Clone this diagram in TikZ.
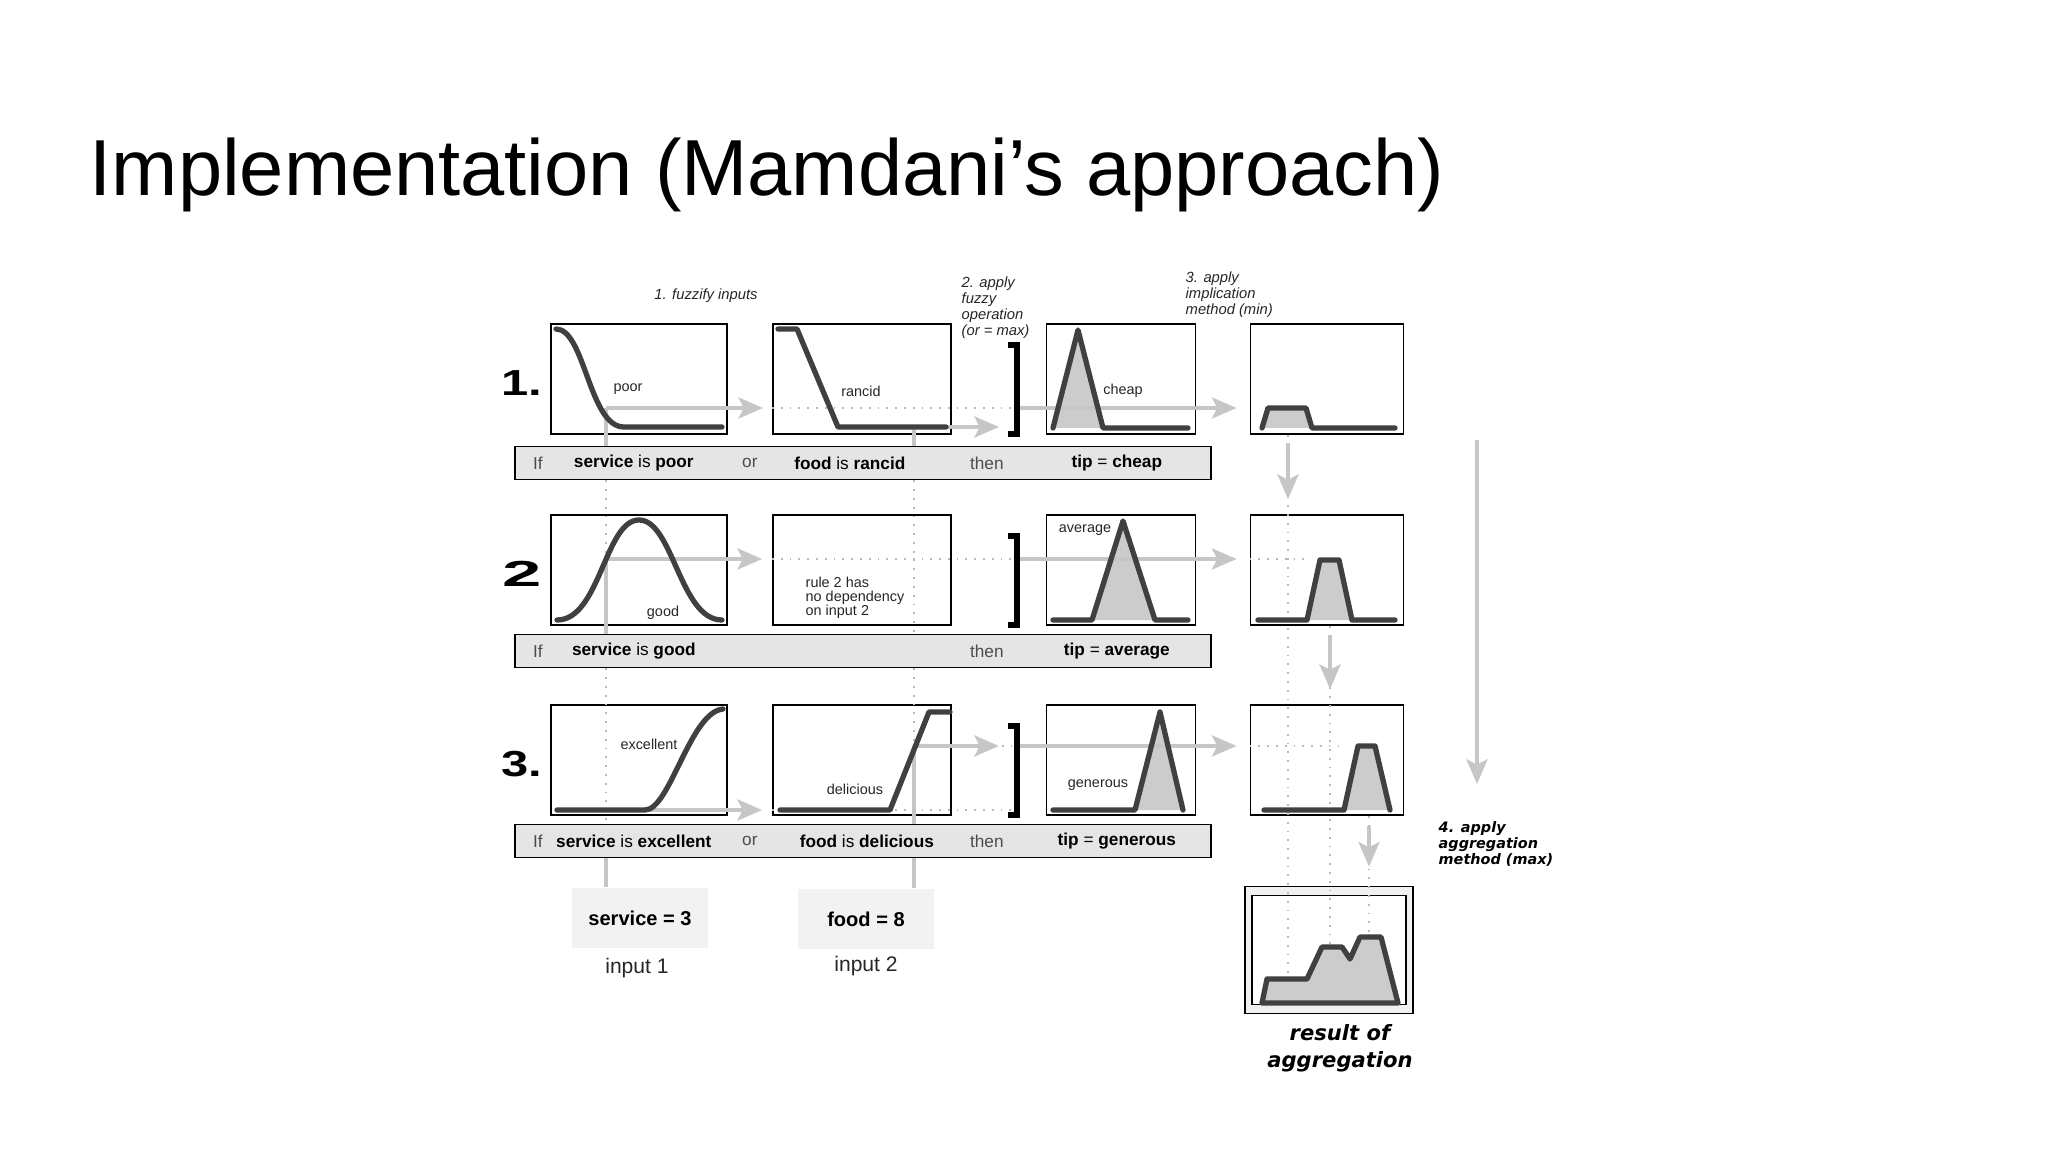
\documentclass[tikz,border=0pt]{standalone}
\usepackage{fontspec}
\setmainfont{Liberation Sans}
\newfontfamily\aggfont{DejaVu Sans}
\usetikzlibrary{arrows.meta,calc}

\begin{document}
\begin{tikzpicture}[x=0.01cm,y=-0.01cm,
  panel/.style={draw,line width=0.5pt,fill=white,inner sep=0pt,minimum height=1.1cm},
  rulebar/.style={draw,line width=0.55pt,fill=gray!20,inner sep=0pt,minimum width=6.96cm,minimum height=0.33cm},
  inbox/.style={fill=gray!10,inner sep=0pt,minimum width=1.35cm,minimum height=0.6cm,font=\fontsize{5.7pt}{6pt}\selectfont\bfseries},
  mf/.style={line width=1.5pt,draw=black!75,line cap=round,line join=round},
  flow/.style={line width=1pt,draw=gray!45,-{Stealth[length=7pt,width=6pt,inset=1.5pt]}},
  feed/.style={line width=1pt,draw=gray!45},
  guide/.style={line width=0.5pt,draw=gray!55,dotted},
  lbl/.style={font=\fontsize{4.1pt}{4.1pt}\selectfont,inner sep=0pt,text=black!85},
  note/.style={font=\fontsize{4.2pt}{4.6pt}\selectfont\itshape,inner sep=0pt,align=left,anchor=north west,text=black!85},
  rtxt/.style={font=\fontsize{4.9pt}{5.5pt}\selectfont,inner sep=0pt},
  rowno/.style={font=\fontsize{10.3pt}{11pt}\selectfont\bfseries,inner sep=0pt},
  bracket/.style={line width=1.6pt}]
\useasboundingbox (0,0) rectangle (2048,1152);

\node[anchor=base west,inner sep=0pt,font=\fontsize{22.6pt}{27pt}\selectfont] (title) at (89,196) {Implementation (Mamdani’s approach)};

\foreach \r/\y/\num/\sx in {1/379/1./1.35,2/570/2/1.95,3/760/3./1.35} {
\node[panel,minimum width=1.76cm] (a\r) at (639,\y) {};
\node[panel,minimum width=1.78cm] (b\r) at (862,\y) {};
\node[panel,minimum width=1.49cm] (c\r) at (1121,\y) {};
\node[panel,minimum width=1.53cm] (d\r) at (1327,\y) {};
\node[rowno] (n\r) at (522,\y+4) {\scalebox{\sx}[1]{\num}};
\coordinate (br\r) at (1017,\y+10);
}

\foreach \r/\y in {1/463,2/651,3/841} {
\node[rulebar] (bar\r) at (863,\y) {};
\node[rtxt,text=black!70] (if\r) at ($(bar\r.west)+(24,0)$) {If};
\node[rtxt,text=black!70] (then\r) at ($(bar\r.west)+(473,0)$) {then};
}
\node[rtxt] (r1s) at ($(bar1.west)+(120,0)$) {\textbf{service} is \textbf{poor}};
\node[rtxt,text=black!70] (r1o) at ($(bar1.west)+(236,0)$) {or};
\node[rtxt] (r1f) at ($(bar1.west)+(336,0)$) {\textbf{food} is \textbf{rancid}};
\node[rtxt] (r1t) at ($(bar1.west)+(603,0)$) {\textbf{tip} = \textbf{cheap}};
\node[rtxt] (r2s) at ($(bar2.west)+(120,0)$) {\textbf{service} is \textbf{good}};
\node[rtxt] (r2t) at ($(bar2.west)+(603,0)$) {\textbf{tip} = \textbf{average}};
\node[rtxt] (r3s) at ($(bar3.west)+(120,0)$) {\textbf{service} is \textbf{excellent}};
\node[rtxt,text=black!70] (r3o) at ($(bar3.west)+(236,0)$) {or};
\node[rtxt] (r3f) at ($(bar3.west)+(353,0)$) {\textbf{food} is \textbf{delicious}};
\node[rtxt] (r3t) at ($(bar3.west)+(603,0)$) {\textbf{tip} = \textbf{generous}};

\node[inbox] (in1) at (640,918) {service = 3};
\node[inbox] (in2) at (866,919) {food = 8};
\node[inner sep=0pt,font=\fontsize{6pt}{7pt}\selectfont,text=black!85] (lab1) at (637,968) {input 1};
\node[inner sep=0pt,font=\fontsize{6pt}{7pt}\selectfont,text=black!85] (lab2) at (866,966) {input 2};

\coordinate (s1) at (606,408);
\coordinate (s2) at (606,559);
\coordinate (s3) at (606,810);
\coordinate (f1) at (914,427);
\coordinate (f3) at (914,746);

\draw[feed] (s1) -- (s1 |- bar1.north);
\draw[guide] (s1 |- bar1.south) -- (s2);
\draw[feed] (s2) -- (s2 |- bar2.north);
\draw[guide] (s2 |- bar2.south) -- (s2 |- bar3.north);
\draw[feed] (s2 |- bar3.south) -- (s2 |- in1.north);
\draw[feed] (f1) -- (f1 |- bar1.north);
\draw[guide] (f1 |- bar1.south) -- (f1 |- bar2.north);
\draw[guide] (f1 |- bar2.south) -- (f3);
\draw[feed] (f3) -- (f3 |- bar3.north);
\draw[feed] (f3 |- bar3.south) -- (f3 |- in2.north);

\node[draw,line width=0.5pt,fill=gray!12,inner sep=0pt,minimum width=1.68cm,minimum height=1.27cm] (res) at (1329,950) {};
\node[draw,line width=0.5pt,fill=white,inner sep=0pt,minimum width=1.54cm,minimum height=1.09cm] (resin) at (res.center) {};

\coordinate (v1) at (1288,979);
\coordinate (v2) at (1330,947);
\coordinate (v3) at (1369,937);
\draw[guide] (v1 |- d1.south) -- (v1);
\draw[guide] (v2 |- d2.south) -- (v2);
\draw[guide] (v3 |- d3.south) -- (v3);

\fill[gray!40] (1053,428) -- (1078,330) -- (1103,428) -- cycle;
\fill[gray!40] (1262,428) -- (1268,408) -- (1306,408) -- (1312,428) -- cycle;
\fill[gray!40] (1092,620) -- (1123,521) -- (1155,620) -- cycle;
\fill[gray!40] (1307,620) -- (1320,560) -- (1339,560) -- (1352,620) -- cycle;
\fill[gray!40] (1135,810) -- (1160,712) -- (1183,810) -- cycle;
\fill[gray!40] (1344,810) -- (1358,746) -- (1375,746) -- (1390,810) -- cycle;

\draw[guide] (s1 -| b1.west) -- (s1 -| br1);
\draw[flow,shorten >=0.09cm] (s1) -- (s1 -| b1.west);
\draw[flow,shorten >=0.18cm] (f1) -- (f1 -| br1);
\draw[flow,shorten >=0.13cm] (s1 -| br1) -- (s1 -| d1.west);

\draw[guide] (s2 -| b2.west) -- (s2 -| br2);
\draw[flow,shorten >=0.1cm] (s2) -- (s2 -| b2.west);
\draw[flow,shorten >=0.13cm] (s2 -| br2) -- (s2 -| d2.west);
\draw[guide] (s2 -| d2.west) -- ($(s2 -| d2.west)+(55,0)$);

\draw[guide] (s3 -| b3.west) -- (s3 -| br3);
\draw[flow,shorten >=0.1cm] (s3) -- (s3 -| b3.west);
\draw[guide] (f3) -- (f3 -| br3);
\draw[flow,shorten >=0.18cm] (f3) -- (f3 -| br3);
\draw[flow,shorten >=0.13cm] (f3 -| br3) -- (f3 -| d3.west);
\draw[guide] (f3 -| d3.west) -- ($(f3 -| d3.west)+(95,0)$);

\draw[flow,shorten <=0.08cm,shorten >=0.15cm] (v1 |- d1.south) -- (v1 |- d2.north);
\draw[flow,shorten <=0.09cm,shorten >=0.15cm] (v2 |- d2.south) -- (v2 |- d3.north);
\draw[flow,shorten <=0.1cm,shorten >=0.19cm] (v3 |- d3.south) -- (v3 |- res.north);
\coordinate (aggtop) at (1477,440);
\coordinate (aggbot) at (1477,784);
\draw[flow] (aggtop) -- (aggbot);

\draw[mf] (556,329) .. controls (585,329) and (589,427) .. (624,427) -- (722,427);
\draw[mf] (778,329) -- (797,329) -- (838,427) -- (946,427);
\draw[mf] (1053,428) -- (1078,330) -- (1103,428) -- (1188,428);
\draw[mf] (1262,428) -- (1268,408) -- (1306,408) -- (1312,428) -- (1395,428);
\draw[mf] (557,620) .. controls (600,620) and (605,520) .. (639,520) .. controls (673,520) and (680,620) .. (722,620);
\draw[mf] (1053,620) -- (1092,620) -- (1123,521) -- (1155,620) -- (1188,620);
\draw[mf] (1258,620) -- (1307,620) -- (1320,560) -- (1339,560) -- (1352,620) -- (1395,620);
\draw[mf] (557,810) -- (645,810) .. controls (670,810) and (690,712) .. (723,709);
\draw[mf] (780,810) -- (890,810) -- (929,712) -- (950,712);
\draw[mf] (1053,810) -- (1135,810) -- (1160,712) -- (1183,810);
\draw[mf] (1264,810) -- (1344,810) -- (1358,746) -- (1375,746) -- (1390,810);
\filldraw[mf,fill=gray!40] (1262,1003) -- (1267,979) -- (1307,979) -- (1322,947) -- (1342,947) -- (1350,959) -- (1360,937) -- (1381,937) -- (1398,1003) -- cycle;

\foreach \r/\y in {1/379,2/570,3/760}
\draw[bracket] (1008,\y-34) -- (1017,\y-34) -- (1017,\y+55) -- (1008,\y+55);

\node[lbl] (poor) at (628,389) {poor};
\node[lbl] (rancid) at (861,391) {rancid};
\node[lbl] (cheap) at (1123,391) {cheap};
\node[lbl] (good) at (663,613) {good};
\node[lbl,align=left,anchor=north west,font=\fontsize{4.1pt}{4pt}\selectfont] (nodep) at (805,576) {rule 2 has\\no dependency\\on input 2};
\node[lbl] (average) at (1085,530) {average};
\node[lbl] (excellent) at (649,744) {excellent};
\node[lbl] (delicious) at (855,789) {delicious};
\node[lbl] (generous) at (1098,785) {generous};

\node[note,anchor=center] (step1) at (706,296) {1. fuzzify inputs};
\node[note] (step2) at (961,276) {2. apply\\fuzzy\\operation\\(or = max)};
\node[note] (step3) at (1185,271) {3. apply\\implication\\method (min)};
\node[note,text=black,font=\aggfont\fontsize{4.1pt}{4.5pt}\selectfont\bfseries\itshape] (step4) at (1438,821) {4. apply\\aggregation\\method (max)};
\node[inner sep=0pt,align=center,anchor=north,font=\aggfont\fontsize{6pt}{7.6pt}\selectfont\bfseries\itshape] (resl) at (1340,1024) {result of\\aggregation};
\end{tikzpicture}
\end{document}
